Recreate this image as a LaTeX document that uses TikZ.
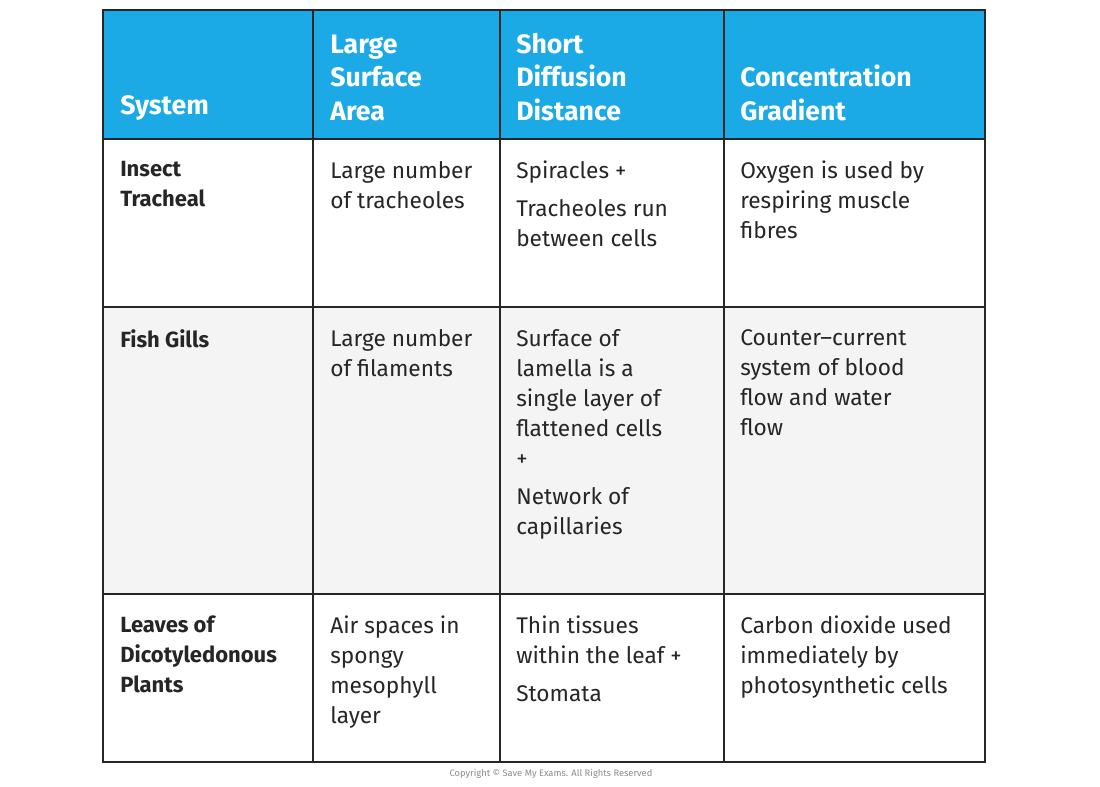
\documentclass[tikz,border=0pt]{standalone}
\usepackage{fontspec}
\setmainfont{Fira Sans}
\definecolor{hdr}{RGB}{27,170,230}
\definecolor{rowg}{RGB}{244,244,244}
\begin{document}
\begin{tikzpicture}[x=0.75pt,y=-0.75pt,
  cell/.style={anchor=north west,align=left,inner sep=0pt,font=\fontsize{17}{22.5}\selectfont,text=black!85},
  hcell/.style={anchor=south west,align=left,inner sep=0pt,font=\fontsize{20}{25}\selectfont\bfseries,text=white},
  bcell/.style={cell,font=\fontsize{16.5}{22.5}\selectfont\bfseries}]
\useasboundingbox (0,0) rectangle (1100,787);
\fill[white] (0,0) rectangle (1100,787);
\fill[hdr] (103,10) rectangle (985,139);
\fill[rowg] (103,307) rectangle (985,594);
\draw[line width=1.5pt,black!85] (103,10) rectangle (985,762);
\foreach \x in {313,500,724} \draw[line width=1.5pt,black!85] (\x,10) -- (\x,762);
\foreach \y in {139,307,594} \draw[line width=1.5pt,black!85] (103,\y) -- (985,\y);
\node[hcell] (h1) at (120,121) {System};
\node[hcell] (h2) at (330,121) {Large\\Surface\\Area};
\node[hcell] (h3) at (516,121) {Short\\Diffusion\\Distance};
\node[hcell] (h4) at (740,121) {Concentration\\Gradient};
\node[bcell] (a1) at (120,161) {Insect\\Tracheal};
\node[cell] (a2) at (330,161) {Large number\\of tracheoles};
\node[cell] (a3) at (516,161) {Spiracles +\\[6pt]Tracheoles run\\between cells};
\node[cell] (a4) at (740,161) {Oxygen is used by\\respiring muscle\\fibres};
\node[bcell] (b1) at (120,329) {Fish Gills};
\node[cell] (b2) at (330,329) {Large number\\of filaments};
\node[cell] (b3) at (516,329) {Surface of\\lamella is a\\single layer of\\flattened cells\\+\\[6pt]Network of\\capillaries};
\node[cell] (b4) at (740,329) {Counter–current\\system of blood\\flow and water\\flow};
\node[bcell] (c1) at (120,616) {Leaves of\\Dicotyledonous\\Plants};
\node[cell] (c2) at (330,616) {Air spaces in\\spongy\\mesophyll\\layer};
\node[cell] (c3) at (516,616) {Thin tissues\\within the leaf +\\[6pt]Stomata};
\node[cell] (c4) at (740,616) {Carbon dioxide used\\immediately by\\photosynthetic cells};
\node[font=\fontsize{7}{8}\selectfont,text=black!45] (cp) at (551,774) {Copyright © Save My Exams. All Rights Reserved};
\end{tikzpicture}
\end{document}
